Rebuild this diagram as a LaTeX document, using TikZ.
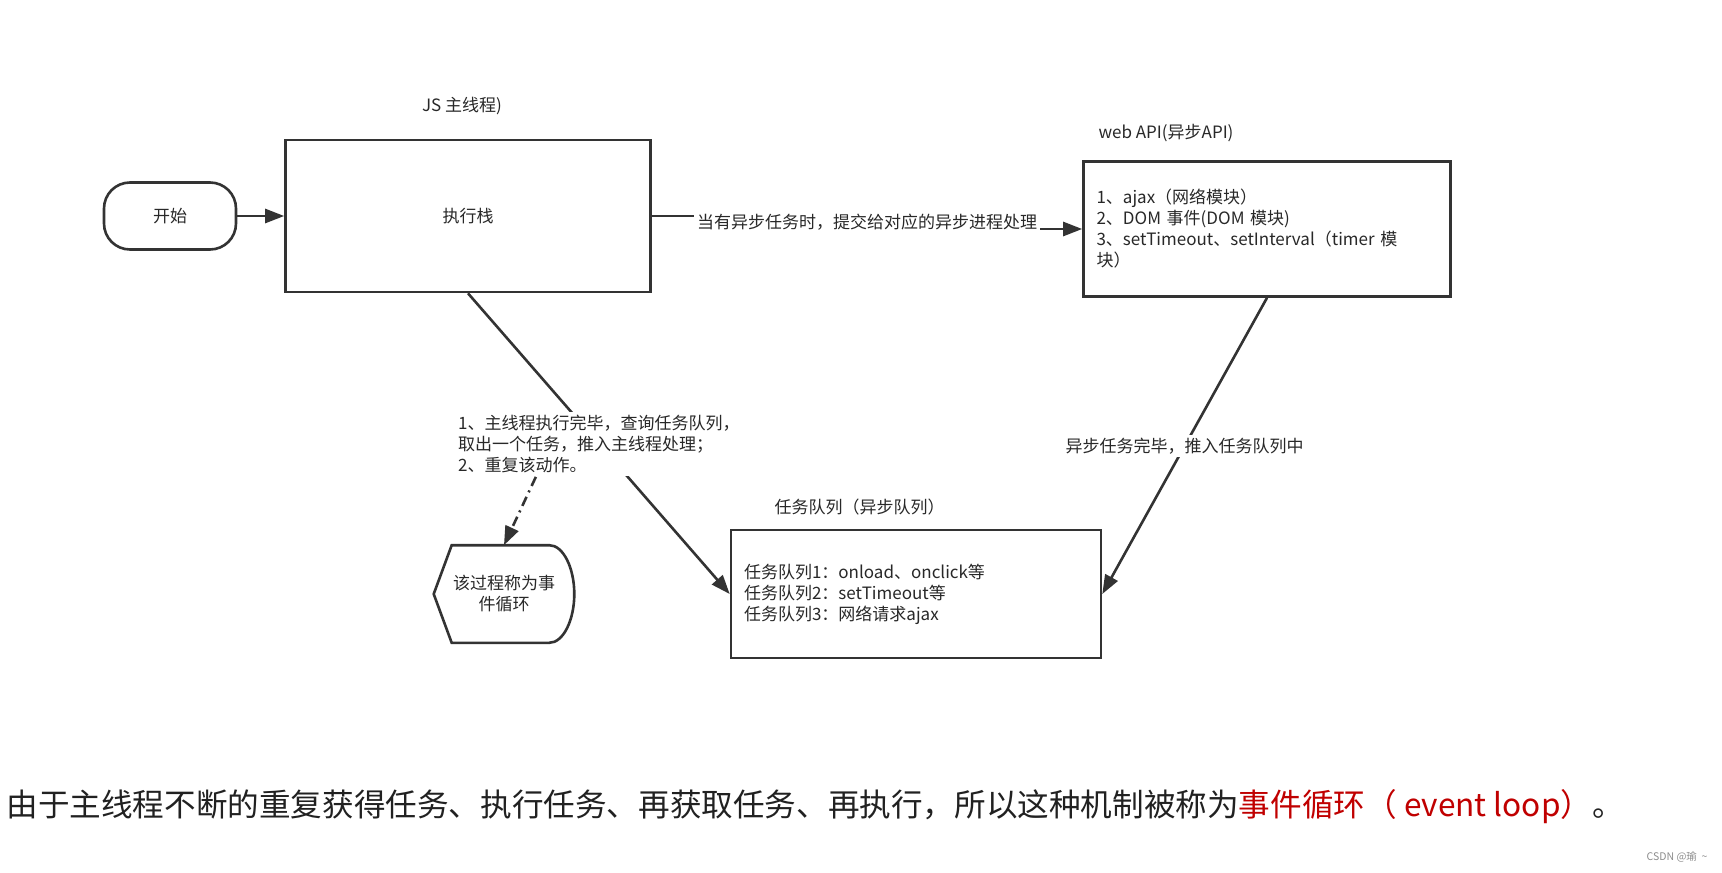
\documentclass[tikz,border=0pt]{standalone}
\usepackage{fontspec}
\setmainfont{Noto Sans CJK SC}
\usepackage{xcolor}
\usetikzlibrary{positioning,arrows.meta,calc}
\definecolor{LineGray}{RGB}{51,51,51}
\definecolor{TextGray}{RGB}{40,40,40}
\definecolor{LoopRed}{RGB}{192,0,0}

\begin{document}
\begin{tikzpicture}[
x=1pt,y=-1pt,
box/.style={
rectangle,
draw=LineGray,
line width=2.6pt,
fill=white,
align=center,
text=TextGray,
font=\fontsize{17}{21}\selectfont
},
listbox/.style={
box,
align=left,
inner xsep=13pt,
text width=#1
},
arrow/.style={
-{Triangle[length=19pt,width=14pt]},
line width=2.6pt,
draw=LineGray
},
title/.style={
text=TextGray,
font=\fontsize{17}{21}\selectfont
},
lbl/.style={
fill=white,
inner sep=3pt,
text=TextGray,
font=\fontsize{17}{21}\selectfont
}
]

\useasboundingbox (0,0) rectangle (1722,873);

\node[box,rounded corners=26pt,minimum width=132pt,minimum height=67pt] (start) at (170,216) {开始};
\node[box,minimum width=365pt,minimum height=152pt] (exec) at (468,216) {执行栈};
\node[listbox=341pt,minimum height=135pt] (webapi) at (1267,229) {1、ajax（网络模块）\\2、DOM 事件(DOM 模块)\\3、setTimeout、setInterval（timer 模\\块）};
\node[listbox=344pt,minimum height=128pt] (queue) at (916,594) {任务队列1：onload、onclick等\\任务队列2：setTimeout等\\任务队列3：网络请求ajax};
\node[box,draw=none,fill=none,minimum width=138pt,minimum height=95pt] (loop) at (504,594) {该过程称为事\\件循环};

\draw[LineGray,line width=2.6pt] ([xshift=18pt]loop.north west) -- ([xshift=-25pt]loop.north east)
.. controls ([xshift=-11pt]loop.north east) and ([yshift=26pt]loop.east) .. (loop.east)
.. controls ([yshift=-26pt]loop.east) and ([xshift=-11pt]loop.south east) .. ([xshift=-25pt]loop.south east)
-- ([xshift=18pt]loop.south west) -- (loop.west) -- cycle;

\node[title,above=20pt of exec,xshift=-6pt] (exectitle) {JS 主线程)};
\node[title,anchor=west] (apititle) at (1095,133) {web API(异步API)};
\node[title,anchor=west] (queuetitle) at (771,507) {任务队列（异步队列）};

\draw[arrow] (start) -- (exec);
\draw[arrow] (exec.east) -| ($(exec.east)!.5!(webapi.west)$) node[lbl] (lblsubmit) {当有异步任务时，提交给对应的异步进程处理} |- (webapi.west);
\draw[arrow] (exec.south) -- node[lbl,align=left] (lbldone) {1、主线程执行完毕，查询任务队列，\\取出一个任务，推入主线程处理；\\2、重复该动作。} (queue.west);
\draw[arrow] (webapi.south) -- node[lbl] (lblpush) {异步任务完毕，推入任务队列中} (queue.east);

\coordinate (loopfrom) at ([xshift=-63pt]lbldone.south);
\draw[arrow,dash pattern=on 10pt off 5pt on 2pt off 5pt] (loopfrom) -- (loop.north);

\node[anchor=west,text=black!87,font=\fontsize{31.6}{38}\selectfont] (summary) at (3,807) {由于主线程不断的重复获得任务、执行任务、再获取任务、再执行，所以这种机制被称为\textcolor{LoopRed}{事件循环（ event loop）}。};
\node[anchor=east,text=black!45,font=\fontsize{10.5}{12}\selectfont] (mark) at (1711,857) {CSDN @瑜\ \ \textasciitilde};

\end{tikzpicture}
\end{document}
